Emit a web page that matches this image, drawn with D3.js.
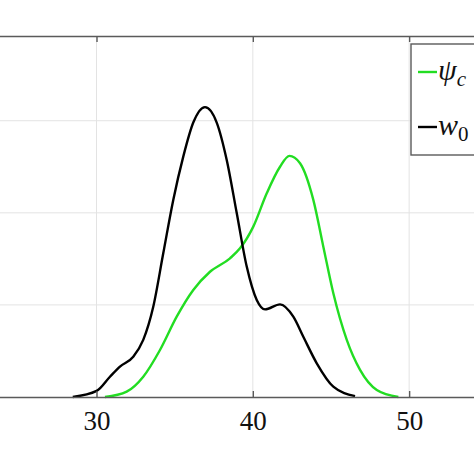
<!DOCTYPE html>
<html><head><meta charset="utf-8">
<script src="https://cdn.jsdelivr.net/npm/d3@7"></script>
<style>body{margin:0;background:#fff}svg{display:block}</style>
</head><body>
<script>
const xTicks = [30, 40, 50];
const yTicks = [0, 0.05, 0.1, 0.15];
const seriesNames = ["\u03c8", "w"];
const psiX = [30.54,31.93,32.99,34.06,35.13,36.19,37.26,38.54,39.18,40.03,40.89,41.74,42.34,43.02,43.87,44.51,45.15,46.01,46.86,47.93,49.31];
const psiY = [0,0.0029,0.011,0.0255,0.0436,0.0581,0.068,0.0753,0.0807,0.0925,0.1106,0.125,0.1309,0.1269,0.107,0.0816,0.0563,0.031,0.0147,0.0038,0];
const wX = [28.48,30.01,30.86,31.50,32.35,32.99,33.63,34.27,34.91,35.55,36.19,36.94,37.69,38.33,38.97,39.61,40.25,40.78,41.74,42.59,43.23,44.09,45.15,46.54];
const wY = [0,0.0033,0.011,0.0165,0.0219,0.031,0.049,0.078,0.107,0.1305,0.149,0.1574,0.149,0.1287,0.0999,0.0708,0.0527,0.0476,0.0503,0.0436,0.0327,0.0183,0.0056,0.0005];

const SERIF = '"Liberation Serif", "Times New Roman", serif';
const W = 474, H = 474;
const svg = d3.select("body").append("svg").attr("width", W).attr("height", H);
const x = d3.scaleLinear().domain([20, 55]).range([-59.8, 487.3]);
const y = d3.scaleLinear().domain([0, 0.196]).range([397, 36]);
const pLeft = x(20), pRight = x(55), pTop = y(0.196), pBot = y(0);

// grid
svg.append("g").selectAll("line").data(xTicks).join("line")
  .attr("x1", d => x(d)).attr("x2", d => x(d)).attr("y1", pTop).attr("y2", pBot)
  .attr("stroke", "#e3e3e3").attr("stroke-width", 1);
svg.append("g").selectAll("line").data(yTicks.slice(1)).join("line")
  .attr("x1", pLeft).attr("x2", pRight).attr("y1", d => y(d)).attr("y2", d => y(d))
  .attr("stroke", "#e3e3e3").attr("stroke-width", 1);

// curves
const line = d3.line().x(d => x(d[0])).y(d => y(d[1])).curve(d3.curveMonotoneX);
const psi = psiX.map((v, i) => [v, psiY[i]]);
const w = wX.map((v, i) => [v, wY[i]]);
svg.append("path").datum(psi).attr("d", line).attr("fill", "none").attr("stroke", "#22dd22").attr("stroke-width", 2.4);
svg.append("path").datum(w).attr("d", line).attr("fill", "none").attr("stroke", "#000").attr("stroke-width", 2.4);

// axes
const xb = svg.append("g").attr("transform", `translate(0,${pBot})`)
  .call(d3.axisBottom(x).tickValues(xTicks).tickSize(-6).tickPadding(14).tickFormat(d3.format("d")));
const xt = svg.append("g").attr("transform", `translate(0,${pTop})`)
  .call(d3.axisTop(x).tickValues(xTicks).tickSize(-6).tickFormat(""));
[xb, xt].forEach(g => {
  g.select(".domain").attr("stroke", "#5a5a5a").attr("stroke-width", 1.4);
  g.selectAll(".tick line").attr("stroke", "#5a5a5a").attr("stroke-width", 1.4);
});
xb.selectAll(".tick text").style("font-family", SERIF).style("font-size", "27px").attr("fill", "#111");

// legend
const lg = svg.append("g");
lg.append("rect").attr("x", 411).attr("y", 44).attr("width", 120).attr("height", 111)
  .attr("fill", "#fff").attr("stroke", "#5a5a5a").attr("stroke-width", 1.4);
const items = [{n: seriesNames[0], s: "c", c: "#22dd22", yy: 72}, {n: seriesNames[1], s: "0", c: "#000", yy: 127}];
items.forEach(it => {
  lg.append("line").attr("x1", 418).attr("x2", 437).attr("y1", it.yy).attr("y2", it.yy)
    .attr("stroke", it.c).attr("stroke-width", 2.4);
  const t = lg.append("text").attr("x", 438).attr("y", it.yy + 8)
    .style("font-family", SERIF).style("font-size", "30px").style("font-style", "italic").attr("fill", "#111");
  t.append("tspan").text(it.n);
  t.append("tspan").style("font-size", "21px").attr("dy", 6).style("font-style", it.s === "0" ? "normal" : "italic").text(it.s);
});
</script>
</body></html>
